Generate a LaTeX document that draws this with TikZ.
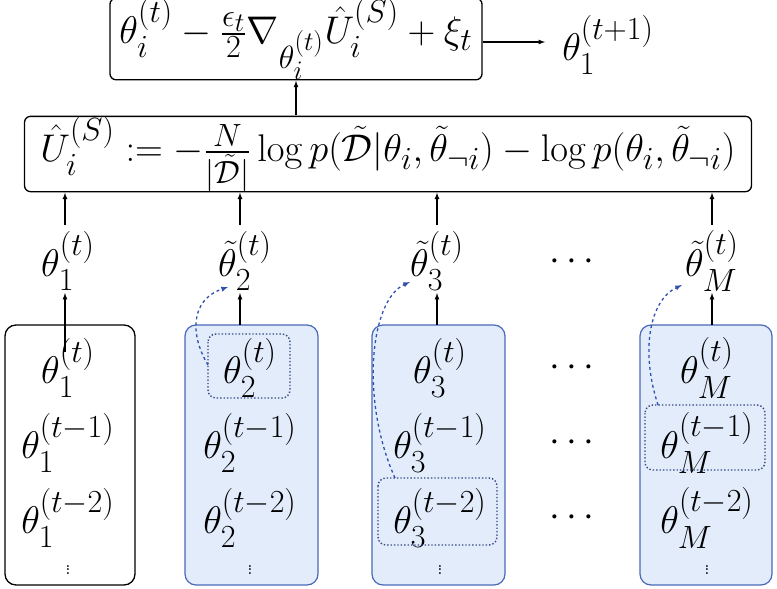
\documentclass[tikz,border=0pt]{standalone}
\usepackage{amsmath,amssymb}
\definecolor{colfill}{HTML}{E2ECFB}
\definecolor{coldraw}{HTML}{4A68B8}
\definecolor{dashc}{HTML}{3050B0}
\begin{document}
\begin{tikzpicture}[x=1pt,y=-1pt,font=\Huge,
  every node/.style={scale=1.55},
  box/.style={draw,rounded corners=6pt,line width=1.3pt,inner sep=0pt},
  col/.style={draw=coldraw,fill=colfill,rounded corners=11pt,line width=1.2pt},
  sel/.style={draw=coldraw!70!black,dotted,rounded corners=8pt,line width=1.4pt},
  arr/.style={-latex,line width=1.2pt},
  dasharr/.style={-latex,dashed,draw=dashc,line width=1.3pt}]
\useasboundingbox (0,0) rectangle (777,589);
\node[box,minimum width=240pt,minimum height=43.9pt] (top) at (296,39)
  {$\theta_i^{(t)}-\frac{\epsilon_t}{2}\nabla_{\theta_i^{(t)}}\hat U_i^{(S)}+\xi_t$};
\node (next) at (608,45) {$\theta_1^{(t+1)}$};
\draw[arr] (top.east |- 0,42) -- (545,42);
\node[box,minimum width=469pt,minimum height=46.5pt] (mid) at (388,154)
  {$\hat U_i^{(S)}:=-\frac{N}{|\tilde{\mathcal D}|}\log p(\tilde{\mathcal D}|\theta_i,\tilde\theta_{\neg i})-\log p(\theta_i,\tilde\theta_{\neg i})$};
\draw[arr] (mid.north -| 296,0) -- (top.south -| 296,0);
% columns
\draw[box,line width=1.3pt,rounded corners=11pt] (5,325) rectangle (135,585);
\draw[col] (185,325) rectangle (318,585);
\draw[col] (372,325) rectangle (505,585);
\draw[col] (640,325) rectangle (772,585);
\foreach \x/\s/\n in {68/1/a,250/2/b,440/3/c,707/M/d}{
  \node (\n1) at (\x,368) {$\theta_{\s}^{(t)}$};
  \node (\n2) at (\x,443) {$\theta_{\s}^{(t-1)}$};
  \node (\n3) at (\x,518) {$\theta_{\s}^{(t-2)}$};
  \node[scale=0.6] (\n4) at (\x,567) {$\vdots$};
}
\node (t1) at (68,261) {$\theta_1^{(t)}$};
\node (t2) at (245,261) {$\tilde\theta_2^{(t)}$};
\node (t3) at (437,261) {$\tilde\theta_3^{(t)}$};
\node (t4) at (712,261) {$\tilde\theta_M^{(t)}$};
\foreach \y in {262,368,443,518}{\node at (575,\y) {$\cdots$};}
\foreach \i/\x in {1/65,2/240,3/437,4/712}{
  \draw[arr] (\x,225) -- (mid.south -| \x,0);}
\draw[arr] (65,352) -- (65,293);
\draw[arr] (240,325) -- (240,293);
\draw[arr] (437,325) -- (437,293);
\draw[arr] (712,325) -- (712,293);
% selections
\draw[sel] (208,334) rectangle (290,398);
\draw[sel] (378,478) rectangle (497,545);
\draw[sel] (645,405) rectangle (765,470);
\draw[dasharr] (208,365) .. controls (190,335) and (190,300) .. (228,287);
\draw[dasharr] (395,478) .. controls (360,400) and (370,300) .. (410,282);
\draw[dasharr] (658,405) .. controls (640,350) and (650,300) .. (682,285);
\end{tikzpicture}
\end{document}
